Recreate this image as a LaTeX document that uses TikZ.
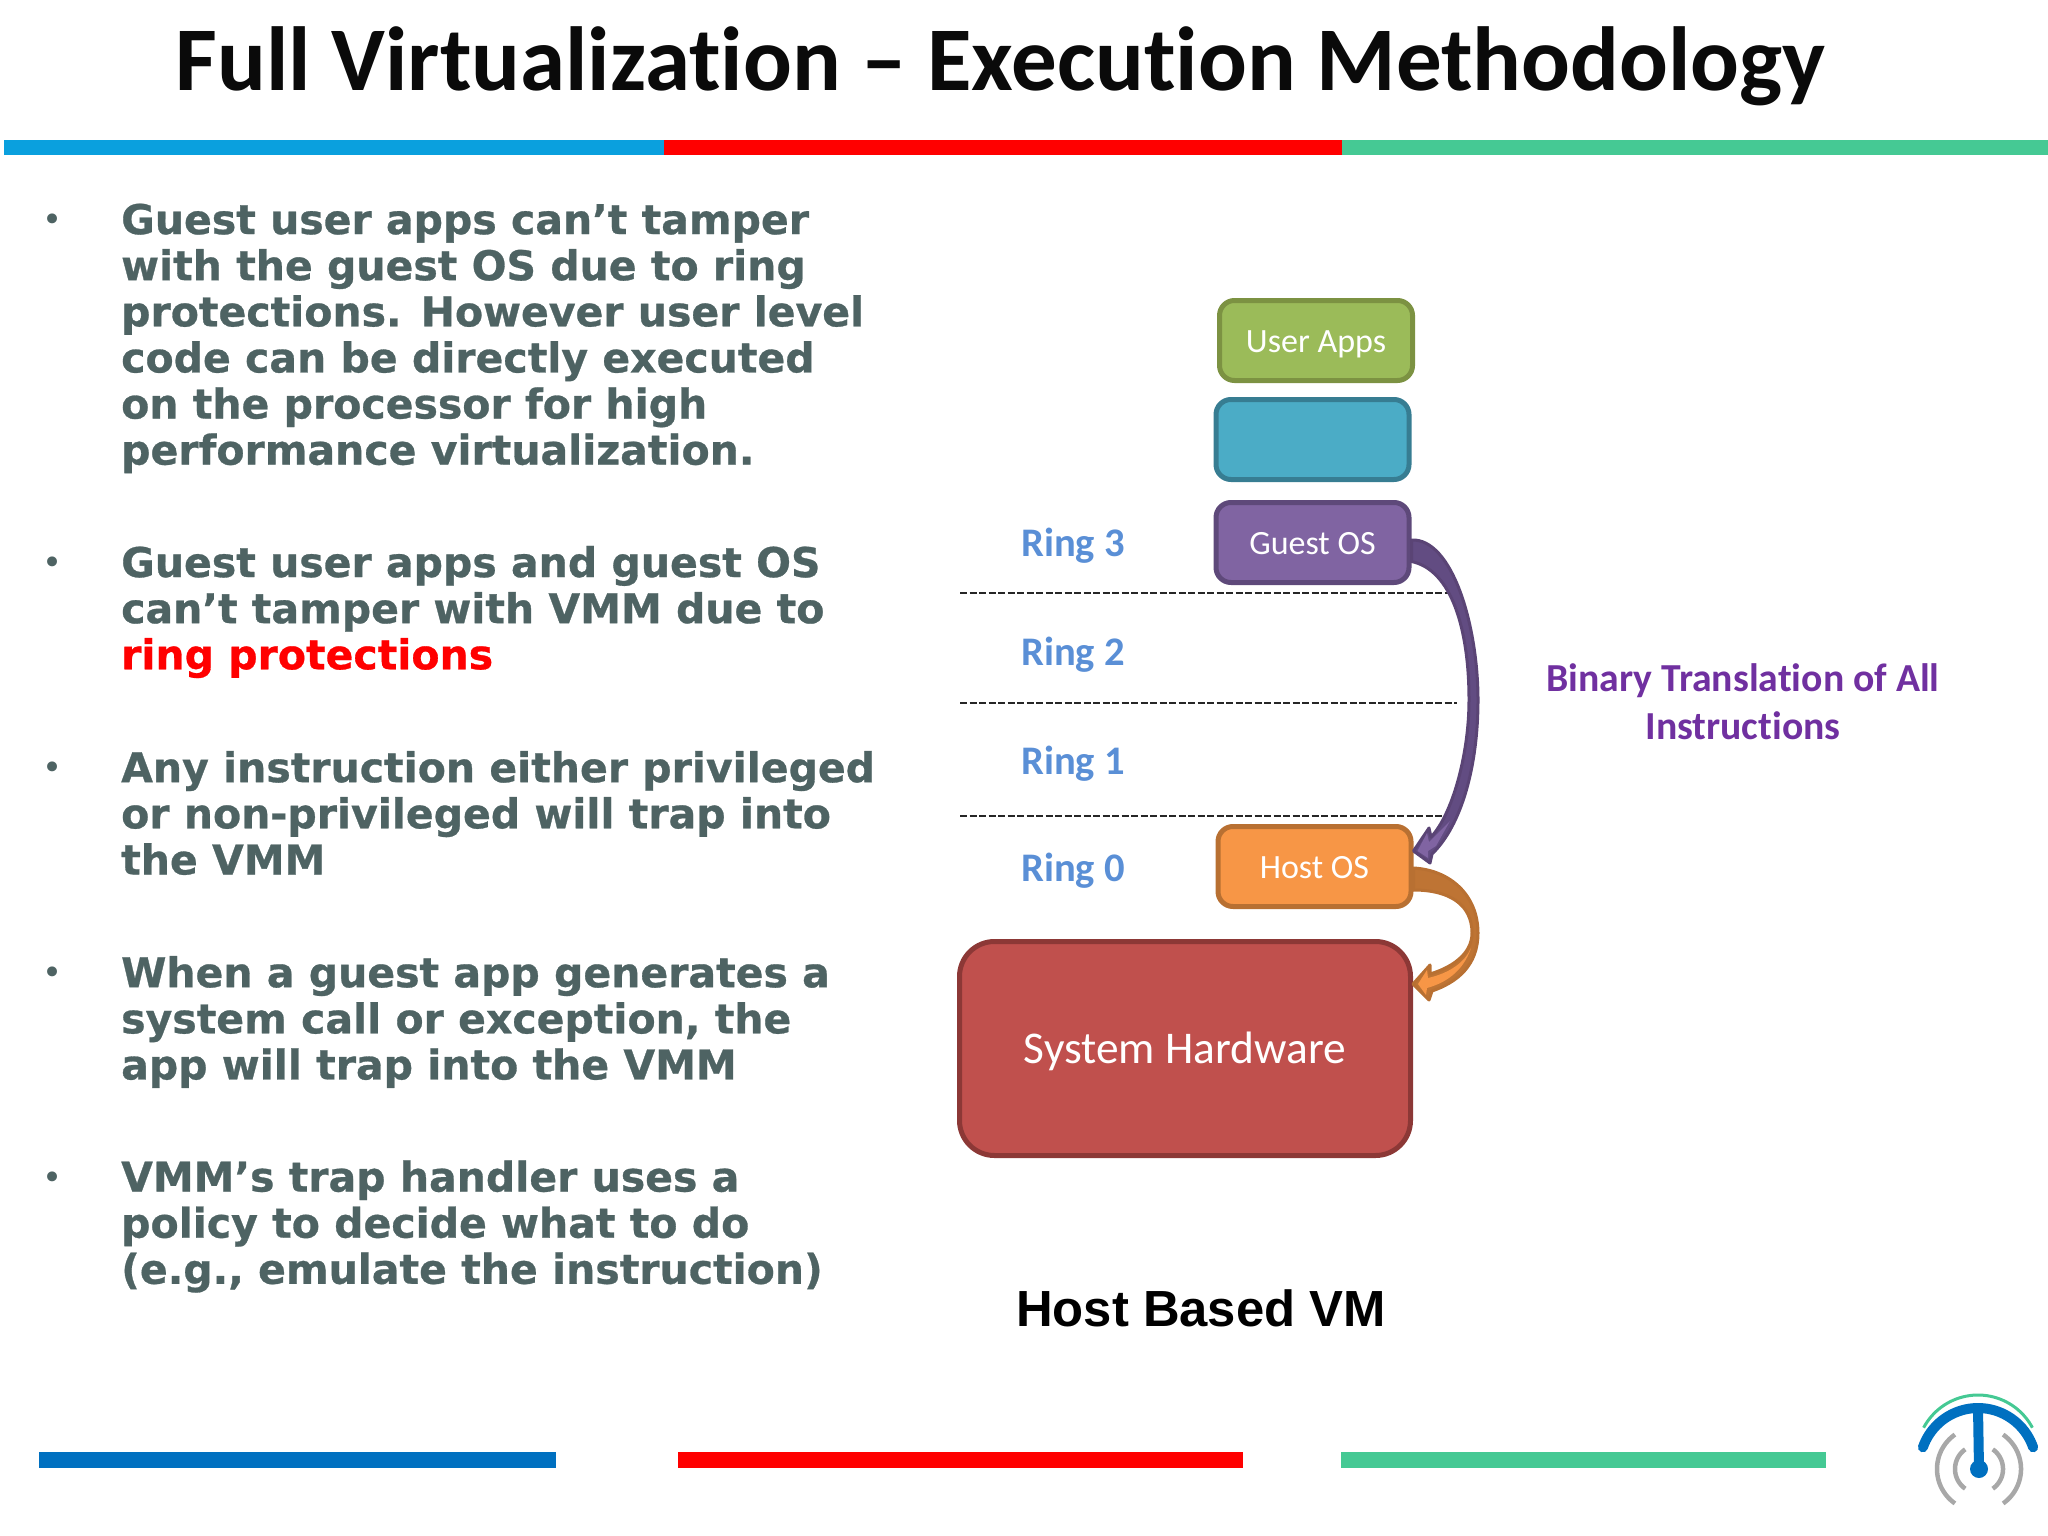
\documentclass[tikz,border=0pt]{standalone}
\usepackage{fontspec}
\setmainfont{Carlito}[Ligatures=NoCommon]
\newfontfamily\bodyfont{DejaVu Sans}[BoldFeatures={FakeBold=0.7}]
\newfontfamily\labelfont{Liberation Sans}
\definecolor{bodytext}{HTML}{4E6363}
\definecolor{ringblue}{HTML}{5A8FD6}
\definecolor{topblue}{HTML}{0AA0DE}
\definecolor{lowblue}{HTML}{0070C0}
\definecolor{barred}{HTML}{FF0000}
\definecolor{bargreen}{HTML}{45C994}
\definecolor{bintext}{HTML}{7030A0}
\definecolor{logogray}{HTML}{A8A8A8}
\newcommand{\boxlabel}[1]{\raisebox{-.34em}[0pt][0pt]{#1}}
\tikzset{
  bar/.style={fill=#1,draw=none},
  osbox/.style={rounded corners=15pt,line width=5pt,minimum width=193pt,minimum height=80pt,text=white,font=\fontsize{34}{38}\selectfont},
  para/.style={anchor=west,inner sep=0pt,align=left,text=bodytext,font=\bodyfont\bfseries\fontsize{41}{46.1}\selectfont},
  ringtext/.style={anchor=west,inner sep=0pt,text=ringblue,font=\bfseries\fontsize{40.6}{44}\selectfont},
  ringline/.style={dashed,dash pattern=on 7pt off 2.5pt,line width=1.8pt,black!85},
  logoarc/.style={logogray,line width=4.5pt,smooth,variable=\t,samples=40}
}
\begin{document}
\begin{tikzpicture}[x=1pt,y=-1pt]
  \useasboundingbox (0,0) rectangle (2048,1536);
  % title and the coloured bars
  \node (title) at (1000.5,66) {\fontsize{91}{100}\selectfont\bfseries\color{black!96}Full Virtualization -- Execution Methodology};
  \fill[bar=topblue] (4,140) rectangle (664,155);
  \fill[bar=barred] (664,140) rectangle (1342,155);
  \fill[bar=bargreen] (1342,140) rectangle (2048,155);
  \fill[bar=lowblue] (39,1452) rectangle (556,1468);
  \fill[bar=barred] (678,1452) rectangle (1243,1468);
  \fill[bar=bargreen] (1341,1452) rectangle (1826,1468);
  % left column
  \foreach \n/\y in {a/223,b/566,c/771,d/976,e/1181}
    \node[text=bodytext,font=\bodyfont\fontsize{34}{36}\selectfont] (bullet\n) at (53,\y) {•};
  \node[para] (para1) at (121,338.4) {Guest user apps can’t tamper\\with the guest OS due to ring\\protections. However user level\\code can be directly executed\\on the processor for high\\performance virtualization.};
  \node[para] (para2) at (121,612) {Guest user apps and guest OS\\can’t tamper with VMM due to\\\textcolor{barred}{ring protections}};
  \node[para] (para3) at (121,813) {Any instruction either privileged\\or non-privileged will trap into\\the VMM};
  \node[para] (para4) at (121,1022) {When a guest app generates a\\system call or exception, the\\app will trap into the VMM};
  \node[para] (para5) at (121,1226.5) {VMM’s trap handler uses a\\policy to decide what to do\\(e.g., emulate the instruction)};
  % rings
  \foreach \n/\y in {3/546,2/655,1/764,0/871}
    \node[ringtext] (ring\n) at (1021,\y) {Ring \n};
  \draw[ringline] (960,593) -- (1452,593);
  \draw[ringline] (960,703) -- (1457,703);
  \draw[ringline] (960,816) -- (1448,816);
  % boxes
  \node[osbox,fill={rgb,255:red,155;green,187;blue,89},draw={rgb,255:red,124;green,146;blue,66}] (userapps) at (1316,340.5) {\boxlabel{User Apps}};
  \node[osbox,fill={rgb,255:red,75;green,172;blue,198},draw={rgb,255:red,55;green,125;blue,146}] (blankbox) at (1312.5,439.5) {};
  \node[osbox,fill={rgb,255:red,128;green,100;blue,162},draw={rgb,255:red,94;green,73;blue,122}] (guestos) at (1312.5,542.5) {\boxlabel{Guest OS}};
  \node[osbox,fill={rgb,255:red,247;green,150;blue,70},draw={rgb,255:red,184;green,112;blue,50}] (hostos) at (1314.5,866.5) {\boxlabel{Host OS}};
  \node[osbox,rounded corners=35pt,minimum width=451pt,minimum height=214pt,font=\fontsize{45.4}{50}\selectfont,fill={rgb,255:red,192;green,80;blue,77},draw={rgb,255:red,140;green,56;blue,54}] (syshw) at (1185,1048.5) {\boxlabel{System Hardware}};
  % curved arrows
  \draw[line width=3pt,line join=round,draw={rgb,255:red,90;green,68;blue,117},fill={rgb,255:red,98;green,76;blue,130}]
    ([yshift=2.5pt]guestos.east) .. controls (1452,538) and (1478,625) .. (1478,700)
    .. controls (1478,765) and (1462,825) .. (1432,854) -- (1430,863) -- ([yshift=15.5pt]hostos.east)
    -- (1429,828) -- (1431,837) .. controls (1452,815) and (1469,755) .. (1469,700)
    .. controls (1469,630) and (1452,570) .. ([yshift=-19pt]guestos.east) -- cycle;
  \fill[fill={rgb,255:red,128;green,100;blue,162}] ([yshift=15.5pt,xshift=4pt]hostos.east) -- (1427,833) -- (1429,842) -- (1450,821) -- (1436,846) -- (1428,851) -- (1428,858) -- cycle;
  \draw[line width=3pt,line join=round,draw={rgb,255:red,184;green,112;blue,50},fill={rgb,255:red,190;green,116;blue,52}]
    ([yshift=-1.5pt]hostos.east) .. controls (1450,870) and (1478,895) .. (1478,933)
    .. controls (1478,965) and (1458,982) .. (1432,991) -- (1429,1000) -- ([yshift=64.5pt]syshw.east)
    -- (1430,965) -- (1430,974) .. controls (1450,968) and (1472,955) .. (1472,933)
    .. controls (1472,905) and (1450,890) .. ([yshift=-23.5pt]hostos.east) -- cycle;
  \fill[fill={rgb,255:red,247;green,150;blue,70}] ([yshift=64.5pt,xshift=5pt]syshw.east) -- (1427,970) -- (1428,978) .. controls (1450,973) and (1465,962) .. (1471,948) .. controls (1463,972) and (1445,983) .. (1427,988) -- (1426,995) -- cycle;
  % right hand text
  \node[align=center,text=bintext,font=\bfseries\fontsize{39.7}{48}\selectfont] (bintrans) at (1743,702) {Binary Translation of All\\Instructions};
  \node[font=\labelfont\bfseries\fontsize{50.8}{56}\selectfont] (hostvm) at (1201,1308) {Host Based VM};
  % logo
  \draw[bargreen,line width=3pt,domain=208:332,smooth,variable=\t,samples=40] plot ({1978+61.6*cos(\t)},{1456.6+61.6*sin(\t)});
  \foreach \a/\b/\r in {125/235/24,125/235/42,-55/55/24,-55/55/42}
    \draw[logoarc,domain=\a:\b] plot ({1979+\r*cos(\t)},{1469+\r*sin(\t)});
  \draw[lowblue,line width=10pt,line cap=round,domain=199:341,smooth,variable=\t,samples=40] plot ({1978+58.3*cos(\t)},{1466.3+58.3*sin(\t)});
  \draw[lowblue,line width=10pt] (1978,1408) -- (1979,1469);
  \fill[lowblue] (1979,1469) circle [radius=9pt];
\end{tikzpicture}
\end{document}
